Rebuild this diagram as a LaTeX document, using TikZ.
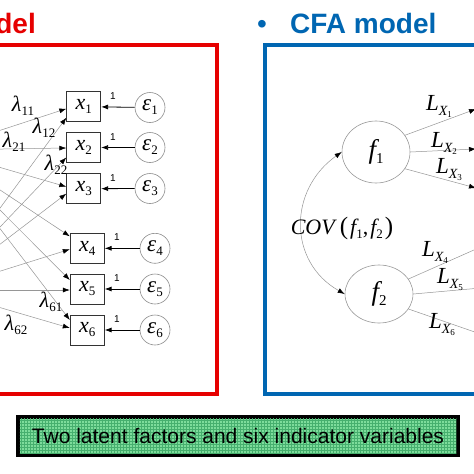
\documentclass[tikz,border=0pt]{standalone}
\usepackage{fontspec}
\setmainfont{Liberation Serif}
\newfontfamily\arial{Liberation Sans}
\usetikzlibrary{arrows.meta,shapes.geometric,calc}
\definecolor{redbox}{RGB}{230,0,0}
\definecolor{bluebox}{RGB}{0,102,178}
\definecolor{banner}{RGB}{125,220,155}
\definecolor{bgrid}{RGB}{70,175,110}
\definecolor{lgray}{RGB}{150,150,150}
\newcommand\fs[1]{\fontsize{#1}{#1}\selectfont}
\newcommand\xv[1]{{\fs{22}\itshape x}\raisebox{-4pt}{\fs{13}#1}}
\newcommand\ev[1]{{\fs{23}\itshape ε}\raisebox{-4pt}{\fs{13}#1}}
\newcommand\lam[1]{{\fs{22}\itshape λ}\raisebox{-4pt}{\fs{13}#1}}
\newcommand\Lx[1]{{\fs{23}\itshape L}\raisebox{-5pt}{\fs{14}\itshape X\raisebox{-2pt}{\fs{9}\upshape #1}}}
\newcommand\fv[1]{{\fs{27}\itshape f}\raisebox{-5pt}{\fs{15}#1}}
\begin{document}
\begin{tikzpicture}[x=1pt,y=-1pt,
  obs/.style={draw=black!80, line width=0.8pt, minimum width=34pt, minimum height=30pt, inner sep=0pt},
  errc/.style={circle, draw=black!45, line width=0.6pt, minimum size=30pt, inner sep=0pt},
  fac/.style={ellipse, draw=black!40, line width=0.6pt, inner sep=0pt},
  load/.style={draw=lgray, line width=0.5pt, -{Latex[length=7pt,width=5pt,color=black]}},
  errarr/.style={draw=black, line width=0.8pt, -{Latex[length=7pt,width=5pt]}},
  covarr/.style={draw=lgray, line width=0.5pt, {Latex[length=7pt,width=5pt,color=black]}-{Latex[length=7pt,width=5pt,color=black]}},
  lab/.style={inner sep=0pt},
  one/.style={inner sep=0pt, font=\arial\fs{10}}]
\useasboundingbox (0,0) rectangle (474,474);
\clip (0,0) rectangle (474,474);
\fill[white] (0,0) rectangle (474,474);
% titles
\node[anchor=base east, inner sep=0pt, text=redbox] (del) at (36,33) {\arial\bfseries\fs{28}del};
\node[anchor=base, inner sep=0pt, text=bluebox] (bul) at (262,33) {\arial\fs{28}•};
\node[anchor=base west, inner sep=0pt, text=bluebox] (cfa) at (290,33) {\arial\bfseries\fs{28}CFA model};
% frames
\draw[redbox, line width=4pt] (-10,44.5) -- (217,44.5) -- (217,394) -- (-10,394);
\draw[bluebox, line width=4pt] (485,44.5) -- (265,44.5) -- (265,394) -- (485,394);
% left panel
\coordinate (F1) at (-60,150);
\coordinate (F2) at (-60,290);
\node[obs] (x1) at (83.7,106.7) {\xv{1}};
\node[obs] (x2) at (83.7,147.5) {\xv{2}};
\node[obs] (x3) at (83.7,188.7) {\xv{3}};
\node[obs] (x4) at (87.2,248.3) {\xv{4}};
\node[obs] (x5) at (87.2,289) {\xv{5}};
\node[obs] (x6) at (87.2,330) {\xv{6}};
\node[errc] (e1) at (150,107.5) {\ev{1}};
\node[errc] (e2) at (150,147.5) {\ev{2}};
\node[errc] (e3) at (150,188.5) {\ev{3}};
\node[errc] (e4) at (155,248.3) {\ev{4}};
\node[errc] (e5) at (155,289) {\ev{5}};
\node[errc] (e6) at (155,330) {\ev{6}};
\foreach \i in {1,...,6} {\draw[errarr] (e\i) -- (x\i);}
\node[one] (o1) at (113,96) {1};
\node[one] (o2) at (113,137) {1};
\node[one] (o3) at (113,178) {1};
\node[one] (o4) at (117,237) {1};
\node[one] (o5) at (117,278) {1};
\node[one] (o6) at (117,319) {1};
\draw[load] (F1) -- ($(x1.west)+(0,2)$);
\draw[load] (F2) -- ($(x1.west)+(0,11)$);
\draw[load] (F1) -- ($(x2.west)+(0,0.5)$);
\draw[load] (F2) -- ($(x2.west)+(0,10)$);
\draw[load] (F1) -- ($(x3.west)+(0,-2)$);
\draw[load] (F2) -- ($(x3.west)+(0,5)$);
\draw[load] (F1) -- ($(x4.west)+(0,-12)$);
\draw[load] (F2) -- ($(x4.west)+(0,1)$);
\draw[load] (F1) -- ($(x5.west)+(0,-9)$);
\draw[load] (F2) -- ($(x5.west)+(0,1)$);
\draw[load] (F1) -- ($(x6.west)+(0,-10)$);
\draw[load] (F2) -- ($(x6.west)+(0,-2)$);
\node[lab] (l11) at (23,106) {\lam{11}};
\node[lab] (l12) at (44,128) {\lam{12}};
\node[lab] (l21) at (14,142) {\lam{21}};
\node[lab] (l22) at (56,165) {\lam{22}};
\node[lab] (l61) at (51,302) {\lam{61}};
\node[lab] (l62) at (16,325) {\lam{62}};
% right panel
\node[fac, minimum width=68pt, minimum height=62pt] (f1) at (376,152) {\fv{1}};
\node[fac, minimum width=68pt, minimum height=58pt] (f2) at (379,294) {\fv{2}};
\coordinate (X1) at (476,109);
\coordinate (X2) at (476,149);
\coordinate (X3) at (476,188);
\coordinate (X4) at (492,242);
\coordinate (X5) at (492,287);
\coordinate (X6) at (492,338);
\draw[load] (f1.30) -- (X1);
\draw[load] (f1.0) -- (X2);
\draw[load] (f1.-30) -- (X3);
\draw[load] (f2.27) -- (X4);
\draw[load] (f2.0) -- (X5);
\draw[load] (f2.-27) -- (X6);
\node[lab] (lx1) at (439,106) {\Lx{1}};
\node[lab] (lx2) at (444,143) {\Lx{2}};
\node[lab] (lx3) at (449,170) {\Lx{3}};
\node[lab] (lx4) at (435,252) {\Lx{4}};
\node[lab] (lx5) at (450,280) {\Lx{5}};
\node[lab] (lx6) at (442,325) {\Lx{6}};
\draw[covarr] (f1.west) .. controls (288,190) and (288,262) .. (f2.west);
\node[lab] (cov) at (342,228) {\fs{22}\itshape COV\hspace{5pt}\upshape{\fs{25}(\hspace{2pt}}\itshape f\raisebox{-4pt}{\upshape\fs{13}1}\upshape,\hspace{2pt}\itshape f\raisebox{-4pt}{\upshape\fs{13}2}\upshape{\fs{25}\hspace{2pt})}};
% banner
\node[draw=black, line width=3.5pt, fill=banner, minimum width=440pt, minimum height=38pt, inner sep=0pt] (ban) at (238,436) {};
\begin{scope}
\clip (19.75,418.75) rectangle (456.25,453.25);
\draw[bgrid, line width=0.35pt, step=3pt] (18,417) grid (458,455);
\end{scope}
\node[inner sep=0pt] (bantxt) at (ban.center) {\arial\fs{21}Two latent factors and six indicator variables};
\end{tikzpicture}
\end{document}
